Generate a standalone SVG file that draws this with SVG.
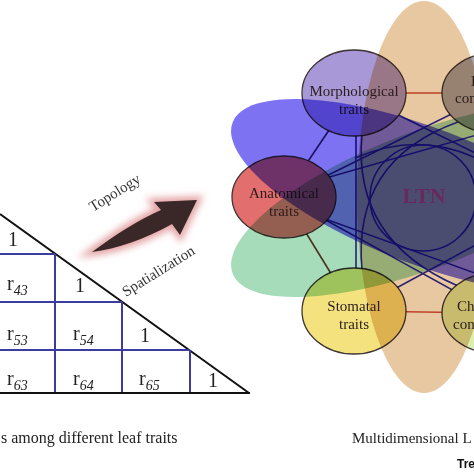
<svg xmlns="http://www.w3.org/2000/svg" width="474" height="474" viewBox="0 0 474 474">
<style>
.serif{font-family:"Liberation Serif","Times New Roman",serif;}
.grid{stroke:#3c3ca0;stroke-width:2;fill:none;}
.blk{stroke:#111;stroke-width:2;fill:none;}
.cell{font-family:"Liberation Serif","Times New Roman",serif;font-size:20px;fill:#222;}
.sub{font-style:italic;font-size:14px;}
.mul{mix-blend-mode:multiply;}
.node{stroke:#3e3434;stroke-width:1.3;mix-blend-mode:multiply;}
.lbl{font-family:"Liberation Serif","Times New Roman",serif;font-size:15px;fill:#2a1c1c;text-anchor:middle;}
.edge{stroke:#2a2070;stroke-width:1.6;fill:none;}
</style>
<defs>
<filter id="glow" x="-30%" y="-30%" width="160%" height="160%"><feGaussianBlur stdDeviation="3.5"/></filter>
<mask id="holes" maskUnits="userSpaceOnUse" x="0" y="0" width="474" height="474">
<rect x="0" y="0" width="474" height="474" fill="#fff"/>
<ellipse cx="354" cy="93" rx="52" ry="43" fill="#000"/>
<ellipse cx="494" cy="93" rx="52" ry="40" fill="#000"/>
<ellipse cx="284" cy="197" rx="52" ry="41" fill="#000"/>
<ellipse cx="354" cy="311" rx="52" ry="43" fill="#000"/>
<ellipse cx="494" cy="313" rx="52" ry="40" fill="#000"/>
</mask>
</defs>
<rect width="474" height="474" fill="#fff"/>

<g id="matrix">
<line class="blk" x1="0" y1="214" x2="249" y2="393"/>
<line class="blk" x1="0" y1="393" x2="250" y2="393"/>
<path class="grid" d="M0 254H55M0 302H122M0 350H190M55 254V392M122 302V392M190 350V392"/>
<text class="cell" x="8" y="246">1</text>
<text class="cell" x="7" y="290">r<tspan class="sub" dy="5">43</tspan></text>
<text class="cell" x="75" y="292">1</text>
<text class="cell" x="7" y="340">r<tspan class="sub" dy="5">53</tspan></text>
<text class="cell" x="73" y="340">r<tspan class="sub" dy="5">54</tspan></text>
<text class="cell" x="140" y="342">1</text>
<text class="cell" x="7" y="385">r<tspan class="sub" dy="5">63</tspan></text>
<text class="cell" x="73" y="385">r<tspan class="sub" dy="5">64</tspan></text>
<text class="cell" x="139" y="385">r<tspan class="sub" dy="5">65</tspan></text>
<text class="cell" x="208" y="387">1</text>
</g>

<g id="arrow">
<path d="M92 252C115 235 140 219 161 210L154 202L197 200L180 235L172 224C145 239 117 249 92 252Z" fill="#e09a9c" stroke="#e4a4a6" stroke-width="8" filter="url(#glow)"/>
<path d="M92 252C115 235 140 219 161 210L154 202L197 200L180 235L172 224C145 239 117 249 92 252Z" fill="#3a2828"/>
<text class="serif" font-size="15" fill="#333" transform="translate(93 212) rotate(-32)">Topology</text>
<text class="serif" font-size="15" fill="#333" transform="translate(126 297) rotate(-32)">Spatialization</text>
</g>

<g id="petals">
<ellipse cx="424" cy="197" rx="67" ry="196" fill="#e8c8a0"/>
<ellipse class="mul" cx="424" cy="200" rx="205" ry="68" transform="rotate(-21 424 200)" fill="#a6dcba"/>
</g>

<g id="connectors" mask="url(#holes)">
<line x1="354" y1="93" x2="494" y2="93" stroke="#c0402a" stroke-width="1.6"/>
<line x1="354" y1="311" x2="494" y2="313" stroke="#c0402a" stroke-width="1.6"/>
<line x1="354" y1="93" x2="284" y2="197" stroke="#3a2060" stroke-width="1.6"/>
<line x1="284" y1="197" x2="354" y2="311" stroke="#4a3020" stroke-width="1.6"/>
<line class="edge" x1="356" y1="93" x2="356" y2="311"/>
<line class="edge" x1="354" y1="93" x2="564" y2="197"/>
<line class="edge" x1="354" y1="311" x2="564" y2="197"/>
<line class="edge" x1="284" y1="190" x2="494" y2="130"/>
<line class="edge" x1="284" y1="204" x2="494" y2="280"/>
<line class="edge" x1="284" y1="197" x2="494" y2="93"/>
<line class="edge" x1="284" y1="197" x2="494" y2="313"/>
<path class="edge" d="M362 134Q352 240 458 286"/>
<path class="edge" d="M362 270Q352 160 458 122"/>
<path class="edge" d="M355 158Q420 130 480 160"/>
<circle class="edge" cx="423" cy="198" r="53"/>
</g>

<g id="n-morph">
<ellipse class="node" cx="354" cy="93" rx="52" ry="43" fill="#a898d8"/>
<text class="lbl" x="354" y="96">Morphological</text>
<text class="lbl" x="354" y="114">traits</text>
</g>
<g id="n-element">
<ellipse class="node" cx="494" cy="93" rx="52" ry="40" fill="#a6a4b4"/>
<text class="lbl" x="471" y="86" style="text-anchor:start">E</text>
<text class="lbl" x="455" y="103" style="text-anchor:start">com</text>
</g>
<g id="n-anat">
<ellipse class="node" cx="284" cy="197" rx="52" ry="41" fill="#e36e6e"/>
<text class="lbl" x="284" y="198">Anatomical</text>
<text class="lbl" x="284" y="216">traits</text>
</g>
<g id="n-stom">
<ellipse class="node" cx="354" cy="311" rx="52" ry="43" fill="#f3e27e"/>
<text class="lbl" x="354" y="311">Stomatal</text>
<text class="lbl" x="354" y="329">traits</text>
</g>
<g id="n-chem">
<ellipse class="node" cx="494" cy="313" rx="52" ry="40" fill="#dcefb0"/>
<text class="lbl" x="457" y="311" style="text-anchor:start">Ch</text>
<text class="lbl" x="453" y="329" style="text-anchor:start">con</text>
</g>
<g id="n-ltn">
<text class="serif" x="424" y="203" font-size="22" font-weight="bold" fill="#d85a62" text-anchor="middle">LTN</text>
</g>
<ellipse class="mul" cx="424" cy="196" rx="205" ry="68" transform="rotate(21 424 196)" fill="#7c72f2"/>

<g id="captions">
<text class="serif" x="1" y="443" font-size="16" fill="#222">s among different leaf traits</text>
<text class="serif" x="352" y="443" font-size="15" fill="#222">Multidimensional L</text>
<text x="457" y="468" font-family="Liberation Sans,Arial,sans-serif" font-size="12" font-weight="bold" fill="#111">Tre</text>
</g>
</svg>
